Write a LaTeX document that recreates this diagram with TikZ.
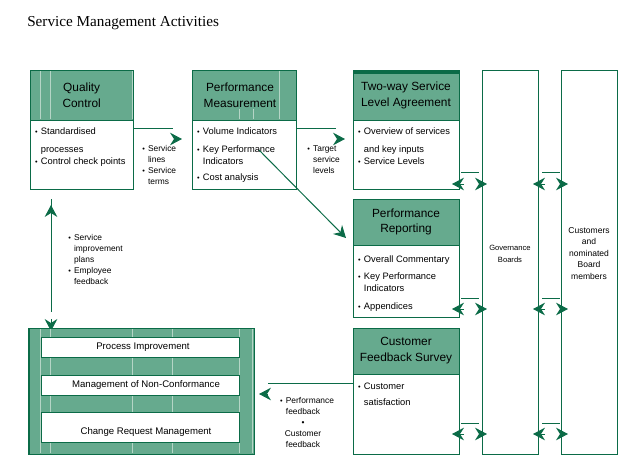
\documentclass[tikz,border=0pt]{standalone}
\usepackage{fontspec}
\setmainfont{Liberation Sans}
\newfontfamily\titlefont{Liberation Serif}
\usetikzlibrary{arrows.meta,positioning}
\definecolor{darkgreen}{HTML}{0B6B47}
\definecolor{midgreen}{HTML}{66AA8E}
\definecolor{stripegreen}{HTML}{B5D5C6}
\newcommand{\bul}{\makebox[4.4pt][l]{\fontsize{5.5}{5}\selectfont\textbullet}}
\newcommand{\ind}{\hspace*{4.4pt}}
\tikzset{
	head/.style={draw=darkgreen, fill=midgreen, line width=.75pt, anchor=north west, outer sep=0pt, align=center, font=\fontsize{8.9}{11.9}\selectfont, minimum width=#1},
	bodybox/.style={draw=darkgreen, fill=white, line width=.75pt, anchor=north, outer sep=0pt, minimum width=#1},
	bodytext/.style={anchor=north west, align=left, inner xsep=3.6pt, inner ysep=5.6pt, font=\fontsize{7}{9}\selectfont},
	sidetext/.style={anchor=north west, align=left, inner sep=0pt, font=\fontsize{6.3}{8.2}\selectfont},
	boardbox/.style={draw=darkgreen, fill=white, line width=.75pt, anchor=north west, outer sep=0pt, minimum width=42pt, minimum height=288pt},
	boardtext/.style={align=center, inner sep=0pt, font=\fontsize{#1}{8.6}\selectfont},
	inbox/.style={draw=darkgreen, fill=white, line width=.75pt, anchor=north west, outer sep=0pt, minimum width=149pt},
	intext/.style={inner sep=0pt, font=\fontsize{7.2}{9}\selectfont},
	link/.style={draw=darkgreen, line width=.75pt},
	tip/.style={draw=darkgreen, line width=.75pt, -{Stealth[length=9pt,width=9.5pt,inset=3pt,fill=darkgreen]}},
	stripe/.style={draw=stripegreen, line width=.75pt}
}
\begin{document}
\begin{tikzpicture}[x=.75pt, y=-.75pt]
	\useasboundingbox (0,0) rectangle (640,464);

	\node[anchor=west, inner sep=0pt, font=\titlefont\fontsize{11.4}{13}\selectfont] (title) at (27,23) {Service Management Activities};

	% top row
	\node[head=77.5pt, minimum height=37.5pt] (qcHead) at (30,70) {Quality\\Control};
	\node[bodybox=77.5pt, minimum height=52pt] (qcBody) at (qcHead.south) {};
	\node[bodytext] (qcText) at (qcBody.north west) {\bul Standardised\\[4.5pt]\ind processes\\\bul Control check points};

	\node[head=78pt, minimum height=37.5pt] (pmHead) at (192,70) {\hspace*{-6pt}Performance\\\hspace*{-6pt}Measurement};
	\node[bodybox=78pt, minimum height=52pt] (pmBody) at (pmHead.south) {};
	\node[bodytext] (pmText) at (pmBody.north west) {\bul Volume Indicators\\[4.5pt]\bul Key Performance\\\ind Indicators\\[3pt]\bul Cost analysis};

	\node[head=79.5pt, minimum height=37.5pt] (twHead) at (353,70) {Two-way Service\\Level Agreement};
	\node[bodybox=79.5pt, minimum height=52pt] (twBody) at (twHead.south) {};
	\node[bodytext] (twText) at (twBody.north west) {\bul Overview of services\\[4.5pt]\ind and key inputs\\\bul Service Levels};
	\fill[darkgreen] (twHead.north west) rectangle (459,74);

	% middle and lower box of the right column
	\node[head=79.5pt, minimum height=34.5pt] (prHead) at (353,199) {Performance\\Reporting};
	\node[bodybox=79.5pt, minimum height=54pt] (prBody) at (prHead.south) {};
	\node[bodytext, yshift=-2.2pt] (prText) at (prBody.north west) {\bul Overall Commentary\\[3.8pt]\bul Key Performance\\\ind Indicators\\[4.5pt]\bul Appendices};

	\node[head=79.5pt, minimum height=34.5pt] (cfHead) at (353,328) {Customer\\Feedback Survey};
	\node[bodybox=79.5pt, minimum height=60pt] (cfBody) at (cfHead.south) {};
	\node[bodytext, yshift=-.7pt] (cfText) at (cfBody.north west) {\bul Customer\\[3pt]\ind satisfaction};

	% boards
	\node[boardbox] (govBox) at (482,70) {};
	\node[boardtext=5.7] (govText) at (510,254) {Governance\\Boards};
	\node[boardbox] (custBox) at (561,70) {};
	\node[boardtext=6.4] (custText) at (589,253.5) {Customers\\and\\nominated\\Board\\members};

	% arrow into the lower left box, drawn first so the box cuts it
	\coordinate (qiTop) at (51,199);
	\coordinate (qiLow) at (51,312);
	\coordinate (qiHeadA) at (51,205);
	\coordinate (qiHeadB) at (51,216);
	\coordinate (qiHeadC) at (51,319);
	\coordinate (qiHeadD) at (51,331);
	\draw[link] (qiTop) -- (qiLow);
	\draw[tip] (qiHeadB) -- (qiHeadA);
	\draw[tip] (qiHeadC) -- (qiHeadD);

	% lower left box
	\node[head=170pt, minimum height=94.5pt] (impBox) at (28,328) {};
	\fill[darkgreen] (impBox.north west) rectangle (30,454);
	\foreach \x in {40,50,132,172,239,252}
		\draw[stripe] (\x,329) -- (\x,453);
	\node[inbox, minimum height=15.5pt] (piBox) at (41,337) {};
	\node[intext] (piText) at (143,347.5) {Process Improvement};
	\node[inbox, minimum height=15pt] (mnBox) at (41,375) {};
	\node[intext] (mnText) at (146,385.5) {Management of Non-Conformance};
	\node[inbox, minimum height=23pt] (crBox) at (41,412) {};
	\node[intext] (crText) at (146,432.5) {Change Request Management};

	% stripes in the headers
	\foreach \x in {40.5,50.5,132}
		\draw[stripe] (\x,71) -- (\x,119);
	\draw[stripe] (279,71) -- (279,119);
	\draw[stripe] (239,109) -- (239,119);
	\draw[stripe] (253,109) -- (253,119);

	% connectors
	\coordinate (qcEnd) at (173,128);
	\coordinate (qcTail) at (174,139);
	\coordinate (qcTip) at (182,139);
	\draw[link] (qcEnd -| qcBody.east) -- (qcEnd);
	\draw[tip] (qcTail) -- (qcTip);

	\coordinate (pmEnd) at (336,128);
	\coordinate (pmTail) at (337,139);
	\coordinate (pmTip) at (345,139);
	\draw[link] (pmEnd -| pmBody.east) -- (pmEnd);
	\draw[tip] (pmTail) -- (pmTip);

	\coordinate (kpi) at (259,150);
	\coordinate (prTip) at (346,238);
	\draw[tip] (kpi) -- (prTip);

	\coordinate (cfEnd) at (268,383);
	\coordinate (cfTail) at (267,394);
	\coordinate (cfTip) at (259,394);
	\draw[link] (cfEnd -| cfBody.west) -- (cfEnd);
	\draw[tip] (cfTail) -- (cfTip);

	% marks between the boxes and the boards
	\foreach \yl/\yh in {172/184,298/309,423/434}
		\foreach \xl in {461,542} {
			\coordinate (markA) at (\xl,\yl);
			\coordinate (markB) at (\xl+18,\yl);
			\coordinate (markC) at (\xl+3,\yh);
			\coordinate (markD) at (\xl-9,\yh);
			\coordinate (markE) at (\xl+18,\yh);
			\coordinate (markF) at (\xl+26,\yh);
			\draw[link] (markA) -- (markB);
			\draw[tip] (markC) -- (markD);
			\draw[tip] (markE) -- (markF);
		}

	% labels on the connectors
	\node[sidetext] (qcLabel) at (142,145.5) {\bul Service\\\ind lines\\\bul Service\\\ind terms};
	\node[sidetext] (pmLabel) at (307,145.5) {\bul Target\\\ind service\\\ind levels};
	\node[sidetext] (qiLabel) at (68,234.5) {\bul Service\\\ind improvement\\\ind plans\\\bul Employee\\\ind feedback};
	\node[sidetext, anchor=north, align=center] (cfLabel) at (303,397.5) {\hspace*{6pt}\bul Performance\\feedback\\\textbullet\\Customer\\feedback};
\end{tikzpicture}
\end{document}
